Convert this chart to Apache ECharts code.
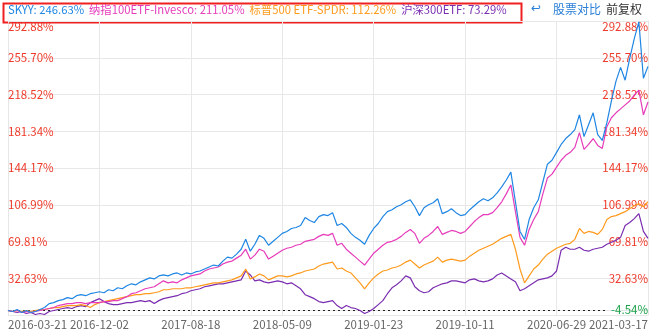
<!DOCTYPE html>
<html>
<head>
<meta charset="utf-8">
<style>
  html, body { margin: 0; padding: 0; background: #fff; }
  #graph { width: 654px; height: 335px; }
</style>
<script src="https://cdn.jsdelivr.net/npm/echarts@6/dist/echarts.min.js"></script>
</head>
<body>
<div id="graph"></div>
<script>
  // 横轴刻度日期（每段20个点）
  var tickDates = ["2016-03-21", "2016-12-02", "2017-08-18", "2018-05-09",
    "2019-01-23", "2019-10-11", "2020-06-29", "2021-03-17"];
  // 纵轴刻度（百分比）
  var yTicks = [-4.54, 32.63, 69.81, 106.99, 144.17, 181.34, 218.52, 255.70, 292.88];
  var names = ["SKYY", "纳指100ETF-Invesco", "标普500 ETF-SPDR", "沪深300ETF"];
  var latest = [246.63, 211.05, 112.26, 73.29];
  var colors = ["#1f86e3", "#e63cba", "#ff9a1c", "#7a2db0"];

  var skyy = [0, -1, 1, -2, 0, -2, -1, 1, 3, 7, 8, 10, 11, 13, 12, 15, 16, 15, 17, 18,
    19, 18, 21, 20, 23, 22, 25, 27, 26, 29, 31, 33, 32, 35, 36, 35, 37, 38, 36, 38,
    37, 39, 40, 42, 44, 46, 45, 50, 54, 53, 57, 62, 72, 60, 67, 76, 73, 66, 70, 74,
    78, 80, 83, 84, 86, 94, 91, 89, 95, 97, 96, 99, 86, 88, 84, 78, 74, 71, 67, 76,
    83, 88, 95, 100, 102, 105, 107, 110, 112, 105, 96, 104, 107, 109, 113, 98, 100, 103, 99, 96,
    97, 102, 106, 110, 113, 111, 114, 119, 125, 132, 140, 110, 80, 72, 92, 104, 112, 130, 148, 152,
    160, 168, 174, 178, 183, 198, 176, 188, 200, 178, 172, 190, 212, 232, 246, 233, 255, 275, 292, 235,
    247];
  var ndx = [0, -1, 0, -2, -1, -2, -1, 0, 1, 2, 3, 5, 6, 7, 7, 8, 8, 7, 8, 8,
    8, 9, 9, 10, 10, 12, 14, 17, 18, 20, 22, 23, 24, 27, 30, 28, 29, 28, 31, 33,
    35, 36, 37, 40, 42, 43, 44, 47, 49, 50, 53, 56, 62, 52, 56, 62, 60, 52, 55, 58,
    61, 63, 64, 66, 67, 70, 71, 72, 75, 77, 76, 78, 66, 68, 62, 58, 54, 50, 46, 52,
    58, 62, 66, 69, 70, 72, 75, 79, 82, 78, 68, 73, 76, 80, 85, 77, 79, 81, 80, 78,
    80, 85, 90, 94, 97, 97, 99, 104, 110, 118, 127, 100, 74, 66, 82, 92, 100, 118, 134, 138,
    145, 152, 157, 160, 165, 180, 163, 168, 174, 167, 164, 186, 195, 200, 204, 208, 212, 218, 223, 198,
    211];
  var spx = [0, -1, 0, -1, 0, -1, 0, 1, 1, 2, 3, 3, 4, 5, 5, 5, 6, 5, 3, 6,
    8, 9, 10, 11, 12, 13, 14, 15, 16, 16, 17, 17, 18, 19, 21, 21, 22, 22, 22, 23,
    23, 24, 25, 26, 27, 28, 28, 29, 30, 31, 33, 35, 42, 32, 34, 37, 35, 31, 33, 35,
    35, 34, 35, 37, 38, 40, 41, 42, 45, 47, 48, 49, 42, 43, 40, 38, 33, 28, 22, 28,
    33, 37, 40, 41, 43, 44, 46, 49, 51, 47, 43, 46, 48, 50, 54, 49, 51, 52, 51, 50,
    51, 55, 58, 61, 63, 65, 67, 70, 73, 75, 77, 62, 42, 28, 35, 42, 46, 52, 57, 60,
    63, 65, 67, 68, 72, 83, 78, 80, 79, 77, 82, 92, 95, 96, 98, 100, 103, 106, 108, 105,
    110];
  var csi = [0, -1, -2, -1, -3, -2, -4, -3, -4, -1, 0, 1, 2, 3, 2, 4, 5, 4, 8, 10,
    12, 9, 7, 6, 6, 7, 8, 8, 9, 10, 9, 10, 7, 10, 12, 13, 14, 15, 17, 18,
    20, 21, 22, 24, 25, 26, 27, 27, 28, 29, 30, 31, 40, 36, 30, 31, 29, 28, 29, 30,
    29, 27, 28, 25, 22, 16, 14, 12, 9, 8, 9, 10, 5, 2, 5, 3, 2, 0, -3, -1,
    2, 6, 10, 17, 23, 26, 30, 35, 33, 24, 20, 18, 19, 23, 25, 27, 28, 30, 30, 29,
    28, 31, 32, 30, 29, 30, 32, 36, 38, 35, 32, 29, 20, 22, 25, 28, 31, 32, 33, 35,
    40, 61, 64, 62, 62, 64, 61, 60, 62, 63, 64, 67, 69, 71, 74, 86, 89, 93, 98, 80,
    73];
  var seriesData = [skyy, ndx, spx, csi];

  // 由刻度日期生成类目
  var SEG = 20;
  var catName = [];
  for (var k = 0; k < tickDates.length - 1; k++) {
    var a = new Date(tickDates[k] + "T00:00:00Z").getTime();
    var b = new Date(tickDates[k + 1] + "T00:00:00Z").getTime();
    for (var j = 0; j < SEG; j++) {
      var d = new Date(a + Math.round((b - a) / 86400000 * j / SEG) * 86400000);
      catName.push(d.toISOString().slice(0, 10));
    }
  }
  catName.push(tickDates[tickDates.length - 1]);

  var FONT = "Noto Sans CJK SC";
  var yMin = yTicks[0], yMax = yTicks[yTicks.length - 1];
  var pct = function (v) { return v.toFixed(2) + "%"; };

  var series = [];
  for (var i = 0; i < names.length; i++) {
    series.push({
      name: names[i],
      type: "line",
      data: seriesData[i],
      showSymbol: false,
      symbol: "none",
      lineStyle: { width: 1.2, color: colors[i] },
      itemStyle: { color: colors[i] },
      z: 10 - i
    });
  }
  // 0% 基准虚线
  series[3].markLine = {
    silent: true,
    symbol: "none",
    label: { show: false },
    lineStyle: { type: [2, 3], color: "#222", width: 1 },
    data: [[{ coord: [0, 0] }, { coord: [131, 0] }]]
  };

  var legendData = names.map(function (n, i) {
    return { name: n, textStyle: { color: colors[i], fontSize: 11.3, fontFamily: FONT } };
  });

  var myChart = echarts.init(document.getElementById("graph"));
  var option = {
    animation: false,
    textStyle: { fontFamily: FONT },
    legend: {
      left: 3,
      top: 4,
      icon: "none",
      itemWidth: 0,
      itemHeight: 0,
      itemGap: 0,
      padding: 0,
      selectedMode: false,
      data: legendData,
      textStyle: { fontSize: 11.3, fontFamily: FONT },
      formatter: function (n) {
        return n + ": " + latest[names.indexOf(n)].toFixed(2) + "%";
      }
    },
    graphic: [
      {
        type: "rect", left: 1, top: 1,
        shape: { width: 518, height: 19 },
        style: { fill: "none", stroke: "#f02020", lineWidth: 2 }
      },
      {
        type: "text", left: 531, top: 3,
        style: { text: "↩", fontSize: 12, fontFamily: "DejaVu Sans", fill: "#2a7fd8" }
      },
      {
        type: "text", left: 553, top: 3,
        style: { text: "股票对比", fontSize: 12, fontFamily: FONT, fill: "#2a7fd8" }
      },
      {
        type: "text", left: 606, top: 3,
        style: { text: "前复权", fontSize: 12, fontFamily: FONT, fill: "#333" }
      }
    ],
    grid: { left: 8, right: 6, top: 21, bottom: 20, containLabel: false },
    xAxis: {
      type: "category",
      data: catName,
      boundaryGap: false,
      axisLine: { show: true, lineStyle: { color: "#e6e6e6" } },
      axisTick: { show: false },
      splitLine: { show: true, interval: SEG - 1, lineStyle: { color: "#e8e8e8" } },
      axisLabel: {
        interval: SEG - 1,
        color: "#666",
        fontSize: 11.5,
        margin: 4,
        fontFamily: FONT,
        showMinLabel: true,
        showMaxLabel: true,
        hideOverlap: false,
        alignMinLabel: "left",
        alignMaxLabel: "right"
      }
    },
    yAxis: [
      {
        type: "value",
        min: yMin,
        max: yMax,
        position: "left",
        axisLine: { show: true, lineStyle: { color: "#e6e6e6" } },
        axisTick: { show: false, customValues: yTicks },
        splitLine: { show: true, lineStyle: { color: "#e8e8e8" } },
        axisLabel: {
          inside: true,
          customValues: yTicks.slice(1),
          color: "#ee3a2a",
          fontSize: 11.5,
          fontFamily: FONT,
          margin: 0,
          verticalAlignMaxLabel: "top",
          formatter: pct
        }
      },
      {
        type: "value",
        min: yMin,
        max: yMax,
        position: "right",
        axisLine: { show: true, lineStyle: { color: "#e6e6e6" } },
        axisTick: { show: false, customValues: yTicks },
        splitLine: { show: false },
        axisLabel: {
          inside: true,
          customValues: yTicks,
          fontSize: 11.5,
          fontFamily: FONT,
          margin: 0,
          verticalAlignMinLabel: "bottom",
          verticalAlignMaxLabel: "top",
          color: function (v) { return v < 0 ? "#1aa24a" : "#ee3a2a"; },
          formatter: pct
        }
      }
    ],
    series: series
  };
  myChart.setOption(option);
</script>
</body>
</html>
